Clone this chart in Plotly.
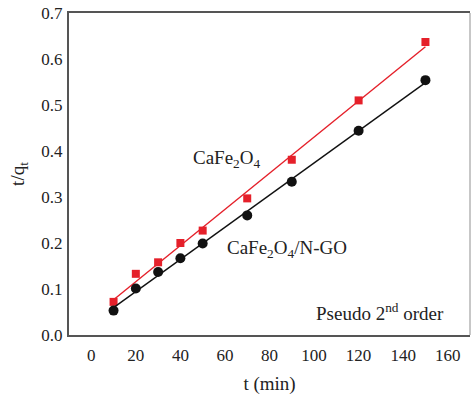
import numpy as np
import plotly.graph_objects as go

t_min = [10, 20, 30, 40, 50, 70, 90, 120, 150]
cafe2o4 = [0.072, 0.133, 0.158, 0.200, 0.227, 0.297, 0.381, 0.510, 0.637]
cafe2o4_ngo = [0.053, 0.101, 0.137, 0.167, 0.199, 0.260, 0.333, 0.444, 0.554]
x_ticks = [0, 20, 40, 60, 80, 100, 120, 140, 160]
y_ticks = [0.0, 0.1, 0.2, 0.3, 0.4, 0.5, 0.6, 0.7]

RED = "#e5202a"
BLACK = "#111111"
FONT = "Liberation Serif"
TXT = "#222222"

def fit(x, y):
    k, b = np.polyfit(x, y, 1)
    xs = np.array([min(x), max(x)])
    return xs, k * xs + b

fig = go.Figure()
for ys, col, sym, size in [(cafe2o4, RED, "square", 8), (cafe2o4_ngo, BLACK, "circle", 10)]:
    fx, fy = fit(t_min, ys)
    fig.add_trace(go.Scatter(x=fx, y=fy, mode="lines", line=dict(color=col, width=1.4),
                             showlegend=False, hoverinfo="skip"))
    fig.add_trace(go.Scatter(x=t_min, y=ys, mode="markers",
                             marker=dict(color=col, symbol=sym, size=size, line=dict(width=0)),
                             showlegend=False))

fig.add_annotation(x=61, y=0.382, xref="x", yref="y", text="CaFe<sub>2</sub>O<sub>4</sub>",
                   showarrow=False, font=dict(family=FONT, size=19, color=TXT))
fig.add_annotation(x=88, y=0.188, xref="x", yref="y", text="CaFe<sub>2</sub>O<sub>4</sub>/N-GO",
                   showarrow=False, font=dict(family=FONT, size=19, color=TXT))
fig.add_annotation(x=129.7, y=0.051, xref="x", yref="y", text="Pseudo 2<sup>nd</sup> order",
                   showarrow=False, font=dict(family=FONT, size=19, color=TXT))

# lighter right frame edge
fig.add_shape(type="line", xref="paper", yref="paper", x0=1, x1=1, y0=0, y1=1,
              line=dict(color="#b5b5b5", width=1.5))

fig.update_layout(
    width=474, height=395,
    margin=dict(l=69, r=4, t=11, b=56),
    paper_bgcolor="white", plot_bgcolor="white",
    font=dict(family=FONT, size=17, color=TXT),
    xaxis=dict(range=[-10, 170], tickvals=x_ticks, showgrid=False, zeroline=False,
               showline=True, mirror=True, linecolor="#555", linewidth=2,
               ticks="", ticklabelstandoff=4,
               title=dict(text="t (min)", standoff=12, font=dict(size=19))),
    yaxis=dict(range=[0, 0.7], tickvals=y_ticks, tickformat=".1f", showgrid=False, zeroline=False,
               showline=True, mirror=False, linecolor="#555", linewidth=2,
               ticks="", ticklabelstandoff=1,
               title=dict(text="t/q<sub>t</sub>", standoff=12, font=dict(size=19))),
)

fig.write_html("out.html", config={"displayModeBar": False},
               post_script="document.body.style.margin='0';")
